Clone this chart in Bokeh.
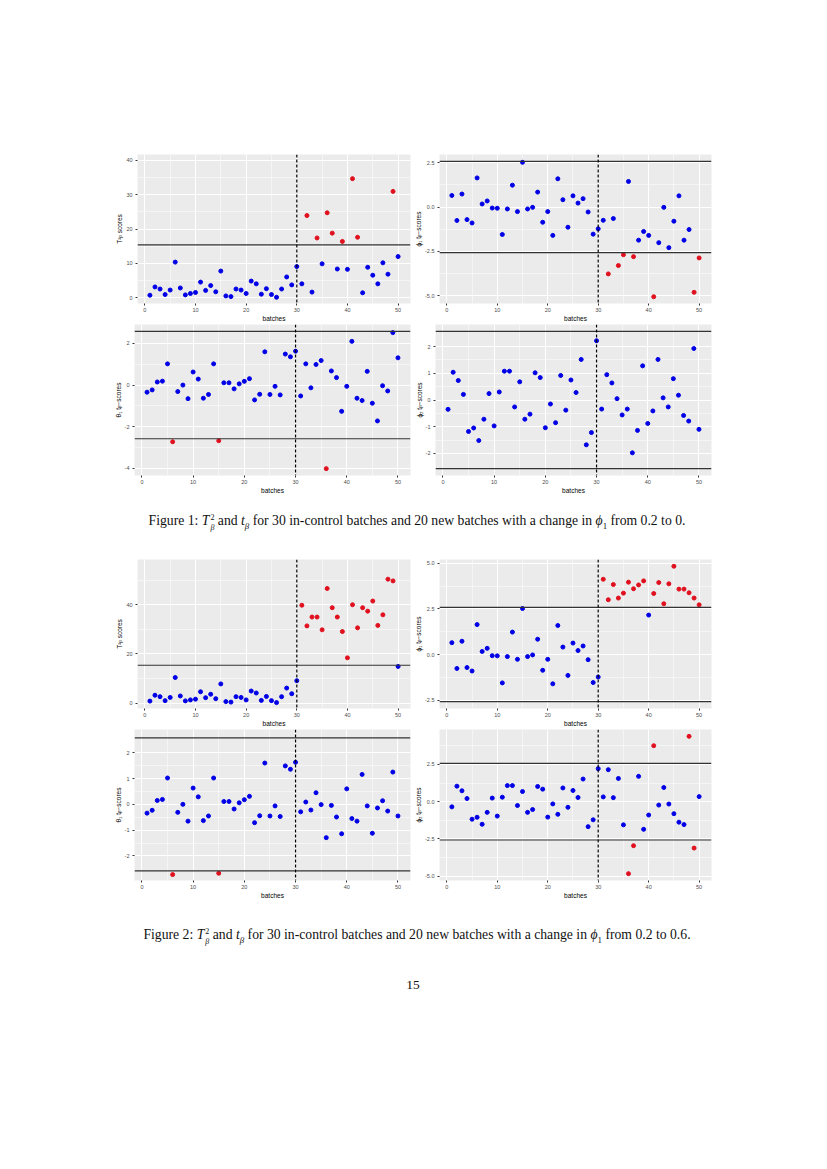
from bokeh.plotting import figure
from bokeh.layouts import column, row
from bokeh.models import Spacer, Div, FixedTicker, PrintfTickFormatter, Span, ColumnDataSource, Range1d
from bokeh.embed import file_html
from bokeh.resources import INLINE

batches = list(range(1, 51))

# In-control batches 1-30 (shared by both figures)
t2_ic = [0.8, 3.2, 2.6, 1.0, 2.3, 10.4, 2.9, 0.9, 1.3, 1.6, 4.6, 2.2, 3.6, 1.8, 7.8,
         0.6, 0.4, 2.6, 2.3, 1.3, 4.9, 4.1, 1.1, 2.7, 1.0, 0.2, 2.6, 6.1, 3.8, 9.1]
phi1_ic = [0.65, -0.76, 0.73, -0.71, -0.90, 1.64, 0.17, 0.34, -0.06, -0.07, -1.55, -0.11, 1.23, -0.26, 2.52,
           -0.11, -0.02, 0.84, -0.86, -0.26, -1.60, 1.59, 0.41, -1.14, 0.63, 0.22, 0.47, -0.28, -1.53, -1.23]
theta1_ic = [-0.34, -0.23, 0.15, 0.19, 1.02, -2.72, -0.31, 0.00, -0.65, 0.63, 0.29, -0.63, -0.45, 1.02, -2.67,
             0.11, 0.11, -0.18, 0.06, 0.18, 0.31, -0.71, -0.44, 1.60, -0.45, -0.06, -0.47, 1.49, 1.36, 1.63]
phi2_ic = [-0.35, 1.04, 0.73, 0.21, -1.18, -1.05, -1.52, -0.72, 0.24, -0.97, 0.30, 1.08, 1.08, -0.26, 0.68,
           -0.72, -0.53, 1.02, 0.84, -1.04, -0.15, -0.85, 0.92, -0.38, 0.75, 0.28, 1.52, -1.68, -1.22, 2.22]

# Figure 1: new batches 31-50 (phi1 from 0.2 to 0)
f1_t2_new = [4.1, 23.9, 1.7, 17.4, 9.9, 24.7, 18.8, 8.4, 16.4, 8.3,
             34.6, 17.6, 1.5, 8.9, 6.6, 4.1, 10.2, 6.9, 30.9, 12.0]
f1_phi1_new = [-0.75, -3.77, -0.65, -3.30, -2.69, 1.44, -2.80, -1.87, -1.38, -1.60,
               -5.06, -2.01, -0.02, -2.29, -0.80, 0.63, -1.87, -1.27, -4.81, -2.87]
f1_theta1_new = [-0.52, 1.02, -0.13, 0.99, 1.18, -4.01, 0.68, 0.36, -1.26, -0.06,
                 2.10, -0.63, -0.74, 0.66, -0.87, -1.72, -0.03, -0.28, 2.52, 1.31]
f1_phi2_new = [-0.34, 0.95, 0.64, 0.05, -0.56, -0.34, -1.98, -1.14, 1.28, -0.88,
               -0.41, 1.52, 0.08, -0.26, 0.80, 0.18, -0.58, -0.79, 1.93, -1.10]

# Figure 2: new batches 31-50 (phi1 from 0.2 to 0.6)
f2_t2_new = [39.8, 31.4, 35.0, 35.0, 29.8, 46.6, 38.8, 35.0, 29.1, 18.4,
             40.0, 30.6, 38.8, 37.4, 41.5, 31.6, 35.9, 50.4, 49.7, 14.9]
f2_phi1_new = [4.12, 3.00, 3.83, 3.09, 3.36, 3.96, 3.60, 3.81, 4.03, 2.16,
               3.34, 3.94, 2.78, 3.87, 4.83, 3.58, 3.58, 3.38, 3.09, 2.72]
f2_theta1_new = [-0.29, 0.09, -0.22, 0.45, -0.01, -1.29, -0.04, -0.49, -1.14, 0.60,
                 -0.55, -0.65, 1.16, -0.06, -1.12, -0.14, 0.14, -0.26, 1.25, -0.45]
f2_phi2_new = [0.32, 2.15, 0.27, 1.56, -1.56, -4.84, -2.96, 1.70, -1.86, -0.90,
               3.76, -0.23, 0.95, -0.16, -0.81, -1.38, -1.54, 4.39, -3.12, 0.34]

t2_limit = 15.4
t_limit = 2.576
change_point = 30

x_ticks = [0, 10, 20, 30, 40, 50]
x_minor = [5, 15, 25, 35, 45]

BLUE = "#0000E6"
RED = "#E0101E"
FONT = "Liberation Sans"


def panel(vals, kind, yr, major, minor, fmt, ylab, left_col, mb_left, top_row):
    if kind == "t2":
        cols = [RED if v > t2_limit else BLUE for v in vals]
    else:
        cols = [RED if abs(v) > t_limit else BLUE for v in vals]
    src = ColumnDataSource(dict(x=batches, y=vals, c=cols))
    p = figure(width=308 if left_col else 301, height=172 if top_row else 174,
               x_range=Range1d(-1.45, 52.45), y_range=Range1d(*yr),
               output_backend="svg", toolbar_location=None,
               min_border_left=mb_left, min_border_right=2,
               min_border_top=2 if top_row else 0,
               min_border_bottom=21 if top_row else 23)
    p.background_fill_color = "#EBEBEB"
    p.border_fill_color = "white"
    p.outline_line_color = None

    xt = FixedTicker(ticks=x_ticks, minor_ticks=x_minor)
    yt = FixedTicker(ticks=major, minor_ticks=minor)
    p.xaxis.ticker = xt
    p.xgrid.ticker = xt
    p.yaxis.ticker = yt
    p.ygrid.ticker = yt
    p.yaxis.formatter = PrintfTickFormatter(format=fmt)
    p.xaxis.formatter = PrintfTickFormatter(format="%d")

    for g in (p.xgrid, p.ygrid):
        g.grid_line_color = "white"
        g.grid_line_width = 1.0
        g.minor_grid_line_color = "white"
        g.minor_grid_line_width = 0.5

    for ax in (p.xaxis, p.yaxis):
        ax.axis_line_color = None
        ax.major_tick_line_color = "#333333"
        ax.major_tick_in = 0
        ax.major_tick_out = 2
        ax.minor_tick_line_color = None
        ax.major_label_text_font = FONT
        ax.major_label_text_font_size = "5.5px"
        ax.major_label_text_color = "#4D4D4D"
        ax.major_label_standoff = 1
        ax.axis_label_text_font = FONT
        ax.axis_label_text_font_size = "6.5px"
        ax.axis_label_text_font_style = "normal"
        ax.axis_label_text_color = "black"
    p.xaxis.axis_label = "batches"
    p.xaxis.axis_label_standoff = 0
    p.xaxis.major_label_standoff = 0
    p.yaxis.axis_label = ylab
    p.yaxis.axis_label_standoff = 0

    limits = [t2_limit] if kind == "t2" else [t_limit, -t_limit]
    for lv in limits:
        p.add_layout(Span(location=lv, dimension="width", line_color="#333333", line_width=1.2))
    p.add_layout(Span(location=change_point, dimension="height", line_color="black",
                      line_width=1.2, line_dash="3 2"))

    p.scatter("x", "y", source=src, size=4, color="c", line_color="c")
    return p


lab_t2 = "T\u00b2\u1d66 scores"
lab_phi1 = "\u03d5\u2081 t\u1d66\u2212scores"
lab_theta1 = "\u03b8\u2081 t\u1d66\u2212scores"
lab_phi2 = "\u03d5\u2082 t\u1d66\u2212scores"

f1p1 = panel(t2_ic + f1_t2_new, "t2", (-1.6, 41.6), [0, 10, 20, 30, 40], [5, 15, 25, 35],
             "%d", lab_t2, True, 33, True)
f1p2 = panel(phi1_ic + f1_phi1_new, "t", (-5.44, 2.96), [-5, -2.5, 0, 2.5], [-3.75, -1.25, 1.25],
             "%.1f", lab_phi1, False, 26, True)
f1p3 = panel(theta1_ic + f1_theta1_new, "t", (-4.34, 2.91), [-4, -2, 0, 2], [-3, -1, 1],
             "%d", lab_theta1, True, 30, False)
f1p4 = panel(phi2_ic + f1_phi2_new, "t", (-2.83, 2.83), [-2, -1, 0, 1, 2], [-1.5, -0.5, 0.5, 1.5],
             "%d", lab_phi2, False, 22, False)

f2p1 = panel(t2_ic + f2_t2_new, "t2", (-2.2, 58.4), [0, 20, 40], [10, 30, 50],
             "%d", lab_t2, True, 33, True)
f2p2 = panel(phi1_ic + f2_phi1_new, "t", (-2.95, 5.2), [-2.5, 0, 2.5, 5], [-1.25, 1.25, 3.75],
             "%.1f", lab_phi1, False, 26, True)
f2p3 = panel(theta1_ic + f2_theta1_new, "t", (-2.95, 2.9), [-2, -1, 0, 1, 2], [-1.5, -0.5, 0.5, 1.5],
             "%d", lab_theta1, True, 30, False)
f2p4 = panel(phi2_ic + f2_phi2_new, "t", (-5.30, 4.85), [-5, -2.5, 0, 2.5], [-3.75, -1.25, 1.25, 3.75],
             "%.1f", lab_phi2, False, 26, False)

TB = ('<i>T</i><span style="display:inline-block;vertical-align:-5px;font-size:8px;'
      'line-height:10px;margin-left:1px;text-align:left">'
      '<span style="display:block;line-height:10px">2</span>'
      '<span style="display:block;line-height:10px"><i>\u03b2</i></span></span>')
tb = '<i>t</i><sub style="font-size:0.65em;line-height:0"><i>\u03b2</i></sub>'
ph = '<i>\u03d5</i><sub style="font-size:0.65em;line-height:0">1</sub>'


def caption(n, to):
    html = ('<div style="width:600px;font-family:\'Liberation Serif\';font-size:13.7px;line-height:14px;'
            'text-align:center;white-space:nowrap;color:#111">'
            f'Figure {n}: {TB} and {tb} for 30 in-control batches and 20 new batches '
            f'with a change in {ph} from 0.2 to {to}.</div>')
    return Div(text=html, width=600, height=14, margin=0)


cap1 = caption(1, "0")
cap2 = caption(2, "0.6")
pnum = Div(text='<div style="width:600px;font-family:\'Liberation Serif\';font-size:13.5px;'
                'line-height:14px;text-align:center;color:#111">15</div>',
           width=600, height=14, margin=0)


def sp(w=0, h=0):
    return Spacer(width=w, height=h, margin=0)


layout = column(
    sp(h=152),
    row(sp(w=104), f1p1, f1p2),
    row(sp(w=104), f1p3, f1p4),
    sp(h=15),
    row(sp(w=117), cap1),
    sp(h=30),
    row(sp(w=104), f2p1, f2p2),
    row(sp(w=104), f2p3, f2p4),
    sp(h=24),
    row(sp(w=117), cap2),
    sp(h=36),
    row(sp(w=113), pnum),
)

open("out.html", "w").write(file_html(layout, INLINE))
